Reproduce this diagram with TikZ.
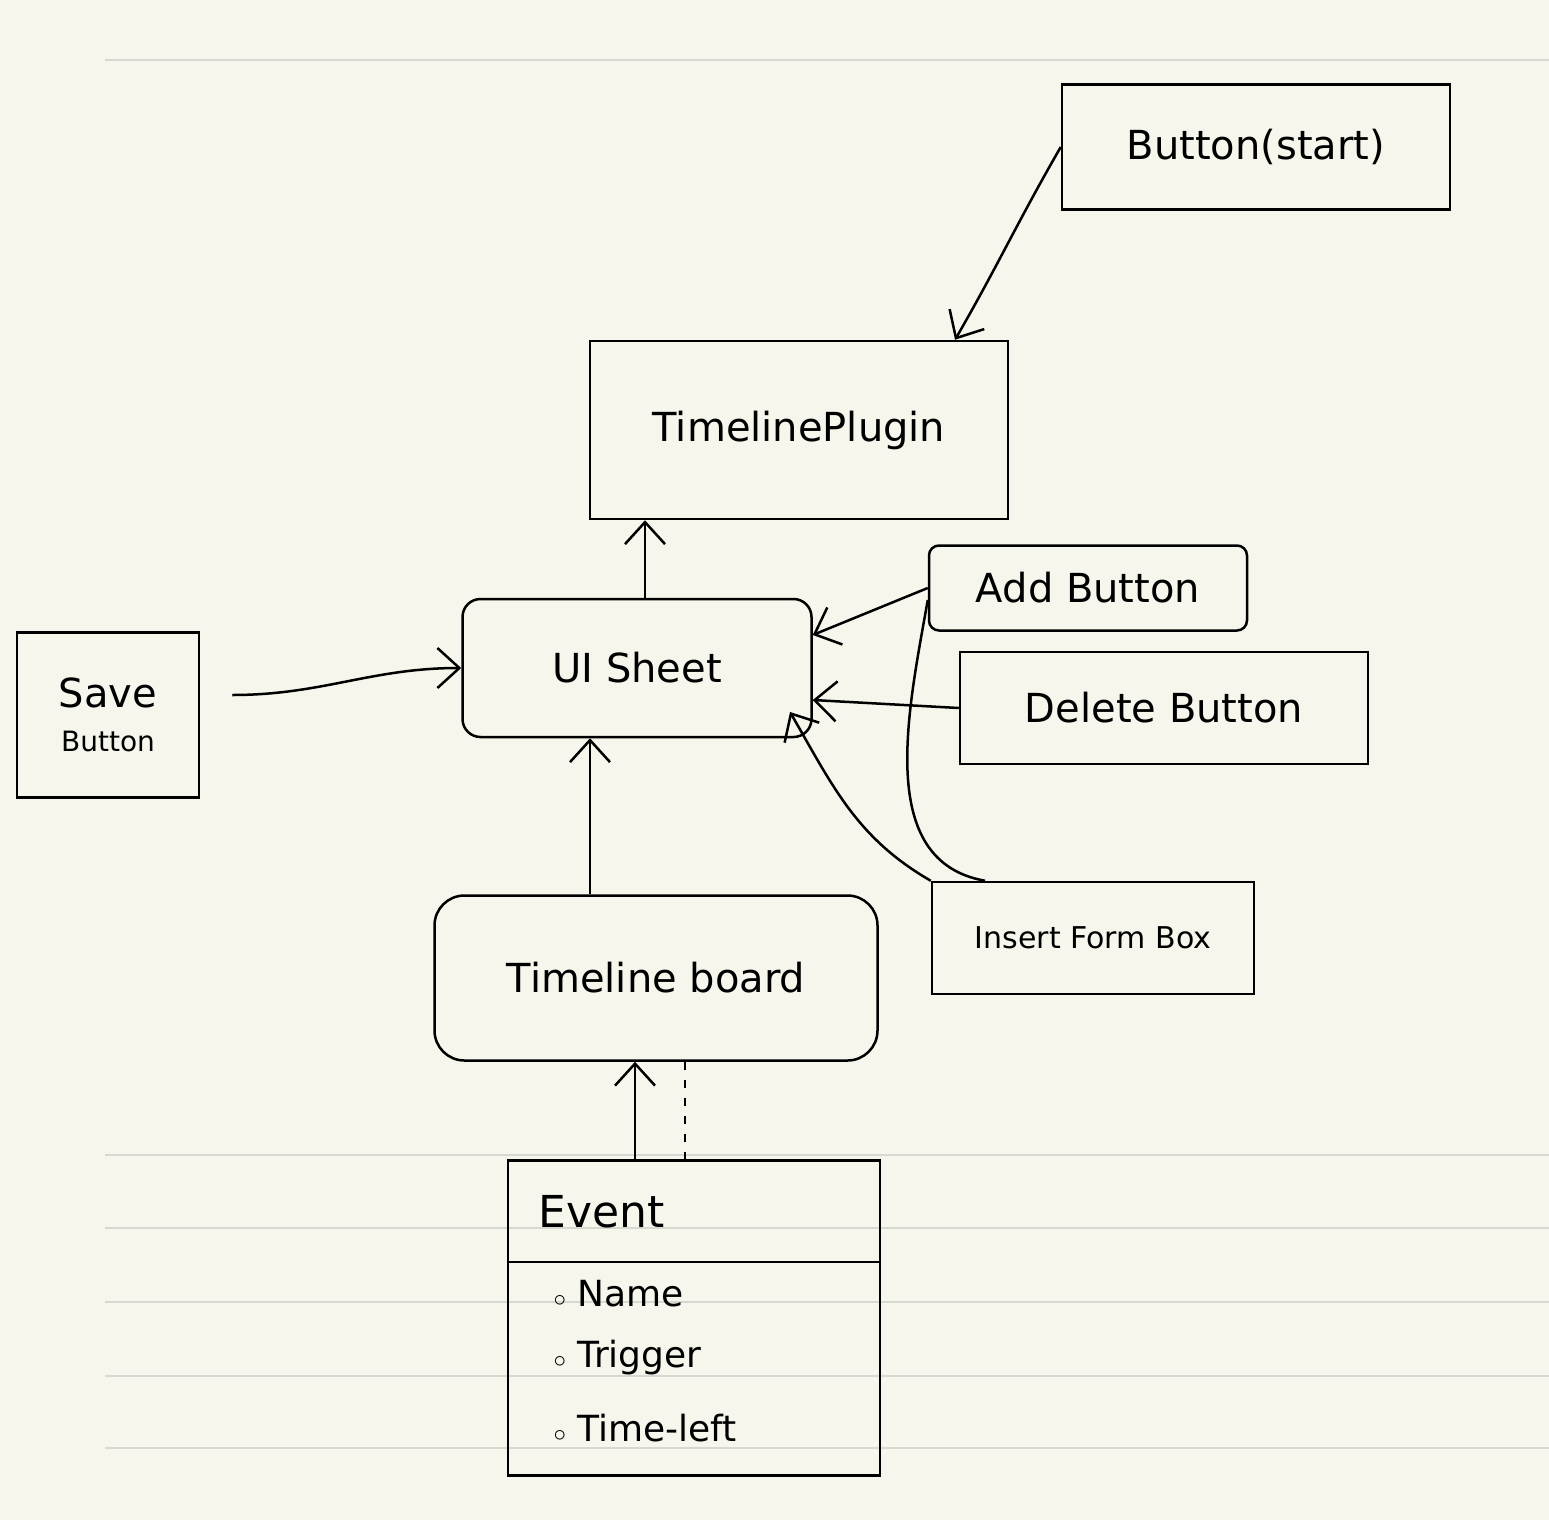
\documentclass[tikz,border=0pt]{standalone}
\usepackage{fontspec}
\setmainfont{DejaVu Sans}
\usetikzlibrary{arrows.meta}
\definecolor{paper}{HTML}{F6F6EC}
\definecolor{rule}{HTML}{D8D8D2}
\tikzset{
  box/.style={draw=black, line width=2.5pt, inner sep=0pt, font=\fontsize{40}{48}\selectfont},
  conn/.style={draw=black, line width=2.5pt, -{Straight Barb[length=22pt,width=40pt,line width=2.5pt]}},
  plain/.style={draw=black, line width=2.5pt},
  ruleline/.style={draw=rule, line width=1.5pt},
  item/.style={font=\fontsize{36}{40}\selectfont, anchor=west}
}
\begin{document}
\begin{tikzpicture}[x=1pt,y=-1pt]
\fill[paper] (0,0) rectangle (1549,1520);
\useasboundingbox (0,0) rectangle (1549,1520);
\foreach \yy in {60,1155,1228,1302,1376,1448} \draw[ruleline] (105,\yy) -- (1549,\yy);

\node[box, minimum width=388pt, minimum height=125pt] (start) at (1256,147) {Button(start)};
\node[box, minimum width=418pt, minimum height=178pt] (plugin) at (799,430) {TimelinePlugin};
\node[box, rounded corners=18pt, minimum width=349pt, minimum height=138pt] (ui) at (637,668) {UI Sheet};
\node[box, align=center, minimum width=182pt, minimum height=165pt] (save) at (108,715) {Save\\[-4pt]{\fontsize{28}{32}\selectfont Button}};
\node[box, rounded corners=10pt, minimum width=318pt, minimum height=85pt] (add) at (1088,588) {Add Button};
\node[box, minimum width=408pt, minimum height=112pt] (del) at (1164,708) {Delete Button};
\node[box, minimum width=322pt, minimum height=112pt, font=\fontsize{30}{36}\selectfont] (ins) at (1093,938) {Insert Form Box};
\node[box, rounded corners=30pt, minimum width=443pt, minimum height=165pt] (board) at (656,978) {Timeline board};
\node[box, minimum width=372pt, minimum height=315pt] (event) at (694,1318) {};
\node[font=\fontsize{44}{52}\selectfont, anchor=west] (evt) at (535,1212) {Event};
\draw[plain] (event.west |- 0,1262) coordinate (dl) -- (event.east |- 0,1262) coordinate (dr);
\node[item] (i1) at (550,1294) {$\circ$\ Name};
\node[item] (i2) at (550,1358) {$\circ$\ Trigger};
\node[item] (i3) at (550,1428) {$\circ$\ Time-left};

\draw[conn] (start.west) to[out=240,in=60] (plugin.north -| 955,0);
\draw[conn] (ui.north -| 645,0) -- (plugin.south -| 645,0);
\draw[conn] (save.east) ++(32,-20) coordinate (s0) to[out=0,in=180] (ui.west);
\draw[conn] (add.west) -- (ui.east |- 0,635);
\draw[conn] (del.west) -- (ui.east |- 0,700);
\draw[conn] (ins.north west) to[out=150,in=-60] (790,712) coordinate (uiin);
\draw[plain] (add.west |- 0,600) to[out=-100,in=170] (ins.north -| 985,0);
\draw[conn] (board.north -| 590,0) -- (ui.south -| 590,0);
\draw[conn] (event.north -| 635,0) -- (board.south -| 635,0);
\draw[plain, dash pattern=on 8pt off 10pt] (board.south -| 685,0) -- (event.north -| 685,0);
\end{tikzpicture}
\end{document}
